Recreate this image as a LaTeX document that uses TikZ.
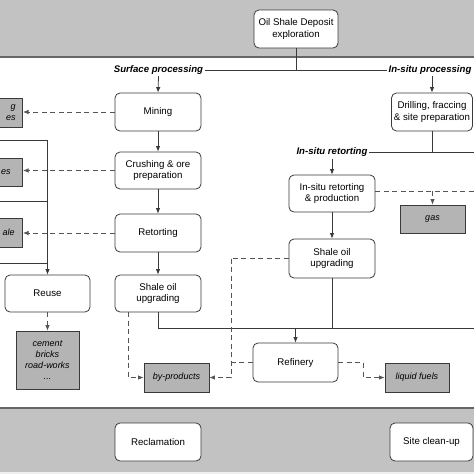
\documentclass[tikz,border=0pt]{standalone}
\usepackage{fontspec}
\setmainfont{Liberation Sans}
\usetikzlibrary{arrows.meta}
\definecolor{band}{HTML}{C2C2C2}
\definecolor{gfill}{HTML}{B4B4B4}
\definecolor{ln}{HTML}{3A3A3A}
\definecolor{dln}{HTML}{555555}
\begin{document}
\begin{tikzpicture}[x=1pt,y=-1pt,
  box/.style={draw=ln, fill=white, rounded corners=5pt, line width=0.8pt, align=center, font=\fontsize{9.7}{11.5}\selectfont, inner sep=0pt},
  gbox/.style={draw=ln, fill=gfill, line width=0.8pt, align=center, font=\fontsize{9}{10.8}\selectfont\itshape, inner sep=0pt},
  lbl/.style={font=\fontsize{9.6}{11.5}\selectfont\bfseries\itshape, inner sep=1.5pt},
  conn/.style={draw=ln, line width=0.8pt},
  arr/.style={conn, -{Latex[length=5.5pt,width=4.5pt]}},
  dconn/.style={draw=dln, line width=0.8pt, dash pattern=on 5pt off 3.5pt},
  darr/.style={dconn, -{Latex[length=5.5pt,width=4.5pt]}}]
\useasboundingbox (0,0) rectangle (474,474);
% bands
\fill[band] (0,0) rectangle (474,57);
\draw[gray!80!black, line width=1.2pt] (0,57) -- (474,57);
\fill[band] (0,408) rectangle (474,472);
\fill[gray!12] (0,472) rectangle (474,474);
\draw[gray!80!black, line width=1.2pt] (0,408) -- (474,408);

% nodes
\node[box, minimum width=84, minimum height=38] (osd) at (296,29) {Oil Shale Deposit\\exploration};
\node[lbl] (sp) at (158.5,70) {Surface processing};
\node[lbl, anchor=west] (ip) at (387,70) {In-situ processing};
\node[box, minimum width=86, minimum height=38] (mining) at (158,112) {Mining};
\node[box, minimum width=86, minimum height=37] (crush) at (158,170.5) {Crushing \& ore\\preparation};
\node[box, minimum width=86, minimum height=38] (retort) at (158,233) {Retorting};
\node[box, minimum width=86, minimum height=37] (soua) at (158,293.5) {Shale oil\\upgrading};
\node[box, minimum width=85, minimum height=37] (reuse) at (47.5,293.5) {Reuse};
\node[gbox, minimum width=63, minimum height=58] (cement) at (47.5,360) {cement\\bricks\\road-works\\...};
\node[gbox, minimum width=65, minimum height=29] (byp) at (176.5,377.5) {by-products};
\node[box, minimum width=85, minimum height=39] (refin) at (295.5,362.5) {Refinery};
\node[gbox, minimum width=64, minimum height=29] (liq) at (417,377.5) {liquid fuels};
\node[box, minimum width=86, minimum height=38] (recl) at (158,442) {Reclamation};
\node[box, minimum width=83, minimum height=38] (site) at (431.5,442) {Site clean-up};
\node[box, minimum width=81, minimum height=38] (drill) at (432,112) {Drilling, fraccing\\\& site preparation};
\node[lbl] (isr) at (332,152.5) {In-situ retorting};
\node[box, minimum width=86, minimum height=37] (isrp) at (332,193.5) {In-situ retorting\\\& production};
\node[box, minimum width=86, minimum height=39] (soub) at (332,258.5) {Shale oil\\upgrading};
\node[gbox, minimum width=65, minimum height=28] (gas) at (432.5,219) {gas};

% cropped grey boxes on the left
\begin{scope}
\clip (0,0) rectangle (474,474);
\node[gbox, anchor=east, minimum height=29, text width=40, align=right, inner xsep=7pt] (w1) at (23,112.5) {g\hspace*{3pt}\\es};
\node[gbox, anchor=east, minimum height=28, text width=40, align=right, inner xsep=12pt] (w2) at (23,172) {es};
\node[gbox, anchor=east, minimum height=29, text width=40, align=right, inner xsep=8pt] (w3) at (23,232.5) {ale};
\end{scope}

% top connectors
\coordinate (j1) at (296,70);
\draw[conn] (osd.south) -- (j1);
\draw[conn] (sp.east) -- (ip.west);
\draw[arr] (sp.south) -- (mining.north);
\draw[arr] (drill.north |- ip.south) -- (drill.north);

% surface chain
\draw[arr] (mining) -- (crush);
\draw[arr] (crush) -- (retort);
\draw[arr] (retort) -- (soua);
\draw[darr] (mining.west) -- (mining.west -| w1.east);
\draw[darr] (crush.west) -- (crush.west -| w2.east);
\draw[darr] (retort.west) -- (retort.west -| w3.east);

% left collector
\coordinate (l1) at (0,140);
\coordinate (l2) at (0,201);
\coordinate (l3) at (0,263);
\coordinate (v1) at (47.5,140);
\coordinate (v2) at (47.5,201);
\coordinate (v3) at (47.5,263);
\draw[conn] (l1) -- (v1);
\draw[conn] (l2) -- (v2);
\draw[conn] (l3) -- (v3);
\draw[arr] (v1) -- (reuse.north);
\draw[darr] (reuse) -- (cement);

% in-situ chain
\coordinate (r2) at (474,152.5);
\draw[conn] (isr.east) -- (r2);
\draw[conn] (drill.south) -- (drill.south |- r2);
\draw[arr] (isr.south) -- (isrp.north);
\draw[arr] (isrp) -- (soub);
\coordinate (r3) at (474,191);
\draw[dconn] (isrp.east |- r3) -- (r3);
\draw[darr] (gas.north |- r3) -- (gas.north);

% to refinery
\coordinate (h1) at (474,328);
\draw[conn] (soua.south) |- (h1);
\draw[conn] (soub.south) -- (soub.south |- h1);
\draw[arr] (refin.north |- h1) -- (refin.north);

% by-products
\draw[darr] ([xshift=-30pt]soua.south) |- (byp.west);
\coordinate (dv) at (231,258.5);
\draw[dconn] (soub.west) -- (dv);
\draw[darr] (dv) |- (byp.east);
\draw[dconn] (refin.west) -- (refin.west -| dv);

% liquid fuels
\coordinate (lf) at (363,362.5);
\draw[darr] (refin.east) -- (lf) |- (liq.west);
\end{tikzpicture}
\end{document}
